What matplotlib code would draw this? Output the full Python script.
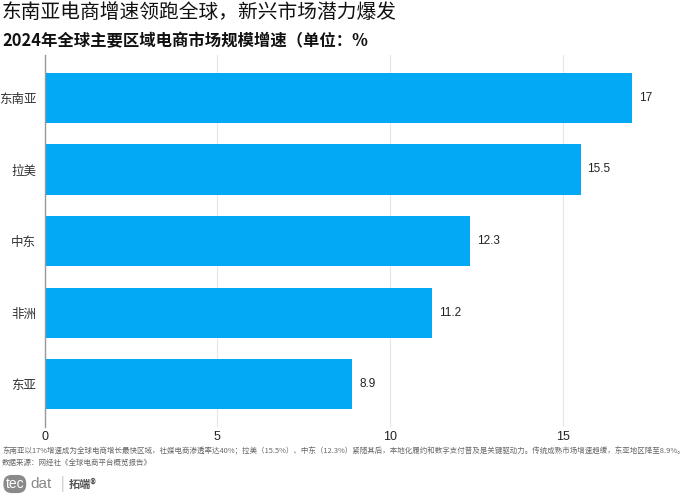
import matplotlib
matplotlib.use("Agg")
import matplotlib.pyplot as plt

plt.rcParams['font.family'] = ['Noto Sans CJK SC', 'DejaVu Sans']

# data
regions = ['东南亚', '拉美', '中东', '非洲', '东亚']
growth = [17, 15.5, 12.3, 11.2, 8.9]
value_labels = ['17', '15.5', '12.3', '11.2', '8.9']
x_ticks = [0, 5, 10, 15]

title = '东南亚电商增速领跑全球，新兴市场潜力爆发'
subtitle = '2024年全球主要区域电商市场规模增速（单位：%'
note = ('东南亚以17%增速成为全球电商增长最快区域，社媒电商渗透率达40%；拉美（15.5%）、中东（12.3%）紧随其后，'
        '本地化履约和数字支付普及是关键驱动力。传统成熟市场增速趋缓，东亚地区降至8.9%。')
source = '数据来源：网经社《全球电商平台概览报告》'

fig = plt.figure(figsize=(6.88, 5), dpi=100)
ax = fig.add_axes([0.0647, 0.146, 0.925, 0.744])

pos = list(range(len(regions)))
ax.barh(pos, growth, height=0.7, color='#03A9F4', zorder=2)
for p, v, s in zip(pos, growth, value_labels):
    ax.text(v + 0.2, p, s, va='center', ha='left', fontsize=8.5,
            color='#222222', family=['Liberation Sans', 'DejaVu Sans'])

ax.set_ylim(4.6, -0.6)
ax.set_xlim(0, 18.4)
ax.set_yticks(pos)
ax.set_yticklabels(regions, fontsize=9, color='#333333')
ax.set_xticks(x_ticks)
ax.set_xticklabels([str(t) for t in x_ticks], fontsize=9, color='#222222',
                   family=['Liberation Sans', 'DejaVu Sans'])
ax.tick_params(axis='y', length=0, pad=6)
ax.tick_params(axis='x', length=0, pad=3)
ax.grid(axis='x', color='#e6e6e6', linewidth=0.8, zorder=0)
for s in ['top', 'right', 'bottom']:
    ax.spines[s].set_visible(False)
ax.spines['left'].set_color('#999999')
ax.spines['left'].set_linewidth(1)

fig.text(0.003, 0.975, title, fontsize=14.2, color='#111111', va='center')
fig.text(0.003, 0.918, subtitle, fontsize=11.8, fontweight='bold', color='#111111', va='center')
fig.text(0.003, 0.098, note, fontsize=5.4, color='#666666', va='center')
fig.text(0.003, 0.074, source, fontsize=5.4, color='#666666', va='center')

# logo
fig.text(0.008, 0.032, 'tec', fontsize=10, color='white', va='center',
         family=['Liberation Sans', 'DejaVu Sans'],
         bbox=dict(boxstyle='round,pad=0.15,rounding_size=0.6', fc='#8a8a8a', ec='none'))
fig.text(0.044, 0.032, 'dat', fontsize=11, color='#8a8a8a', va='center',
         family=['Liberation Sans', 'DejaVu Sans'])
fig.text(0.088, 0.032, '|', fontsize=10, color='#bbbbbb', va='center')
fig.text(0.1, 0.032, '拓端®', fontsize=8, color='#555555', va='center', fontweight='bold')

fig.savefig('out.png', dpi=100)
plt.close(fig)
